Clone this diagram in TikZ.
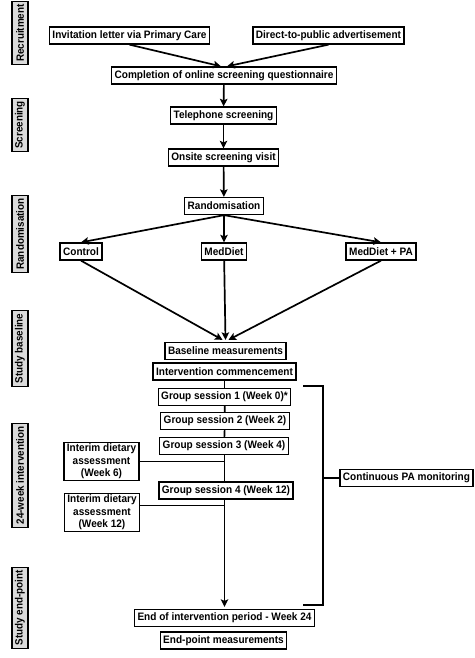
\documentclass[tikz,border=0pt]{standalone}
\usepackage{fontspec}
\setmainfont{Liberation Sans}[FakeStretch=0.93]
\usetikzlibrary{arrows.meta}
\begin{document}
\begin{tikzpicture}[x=1pt,y=-1pt,
  box/.style={draw, line width=1.3pt, font=\bfseries\fontsize{10.8}{12.6}\selectfont,
    inner xsep=3pt, inner ysep=1.2pt, minimum height=17pt, align=center},
  phase/.style={draw, line width=1.2pt, fill=black!14, rotate=90,
    font=\bfseries\fontsize{10.6}{12}\selectfont, inner xsep=3pt, inner ysep=1.2pt, minimum height=16pt},
  conn/.style={line width=1.7pt},
  arr/.style={line width=1.7pt, -{Stealth[length=7.5pt,width=7.5pt,inset=1.5pt]}}]
\useasboundingbox (0,0) rectangle (474,658);
% phase labels
\node[phase] (p1) at (20,33) {Recruitment};
\node[phase] (p2) at (20,125) {Screening};
\node[phase] (p3) at (20,234) {Randomisation};
\node[phase] (p4) at (20,348.5) {Study baseline};
\node[phase] (p5) at (20,475.5) {24-week intervention};
\node[phase] (p6) at (20,608) {Study end-point};
% main nodes
\node[box] (inv) at (129.5,35.5) {Invitation letter via Primary Care};
\node[box] (adv) at (328.5,35.5) {Direct-to-public advertisement};
\node[box] (comp) at (224,75.5) {Completion of online screening questionnaire};
\node[box] (tel) at (223.5,115.5) {Telephone screening};
\node[box] (onsite) at (223.5,157.5) {Onsite screening visit};
\node[box] (rand) at (224,206) {Randomisation};
\node[box] (ctrl) at (81,251.5) {Control};
\node[box] (md) at (224,251.5) {MedDiet};
\node[box] (mdpa) at (381,251.5) {MedDiet + PA};
\node[box] (base) at (225.5,351) {Baseline measurements};
\node[box] (comm) at (224.5,371.5) {Intervention commencement};
\node[box] (gs1) at (224.5,397) {Group session 1 (Week 0)*};
\node[box] (gs2) at (225,421) {Group session 2 (Week 2)};
\node[box] (gs3) at (224,446) {Group session 3 (Week 4)};
\node[box] (gs4) at (226,490.5) {Group session 4 (Week 12)};
\node[box] (ia1) at (101.5,461.5) {Interim dietary\\assessment\\(Week 6)};
\node[box] (ia2) at (102,512.5) {Interim dietary\\assessment\\(Week 12)};
\node[box] (pa) at (406.5,478) {Continuous PA monitoring};
\node[box] (end) at (224.5,618) {End of intervention period - Week 24};
\node[box] (ep) at (223.5,640.5) {End-point measurements};
% connectors
\draw[arr] (inv.south) -- ([xshift=-3pt]comp.north);
\draw[arr] (adv.south) -- ([xshift=3pt]comp.north);
\draw[arr] (comp) -- (tel);
\draw[arr] (tel) -- (onsite);
\draw[arr] (onsite) -- (rand);
\draw[arr] (rand.south) -- (ctrl.north);
\draw[arr] (rand) -- (md);
\draw[arr] (rand.south) -- (mdpa.north);
\draw[arr] (ctrl.south) -- ([xshift=-3pt,yshift=2pt]base.north);
\draw[arr] (md) -- ([yshift=2pt]base.north);
\draw[arr] (mdpa.south) -- ([xshift=3pt,yshift=2pt]base.north);
\draw[conn] (comm) -- (gs1);
\draw[conn] (gs1) -- (gs2);
\draw[conn] (gs2) -- (gs3);
\draw[conn] (gs3.south -| end.north) -- (gs4.north -| end.north);
\draw[arr] (gs4.south -| end.north) -- ([yshift=2pt]end.north);
\coordinate (i1) at (ia1.east);
\coordinate (i2) at ([yshift=7pt]ia2.east);
\draw[conn] (i1) -- (i1 -| end.north);
\draw[conn] (i2) -- (i2 -| end.north);
% bracket
\coordinate (bt) at (303,386);
\coordinate (bb) at (303,605);
\draw[line width=1.4pt] (bt) -- (323,386) -- (323,605) -- (bb);
\draw[line width=1.4pt] (323,478) -- (pa.west);
\end{tikzpicture}
\end{document}
